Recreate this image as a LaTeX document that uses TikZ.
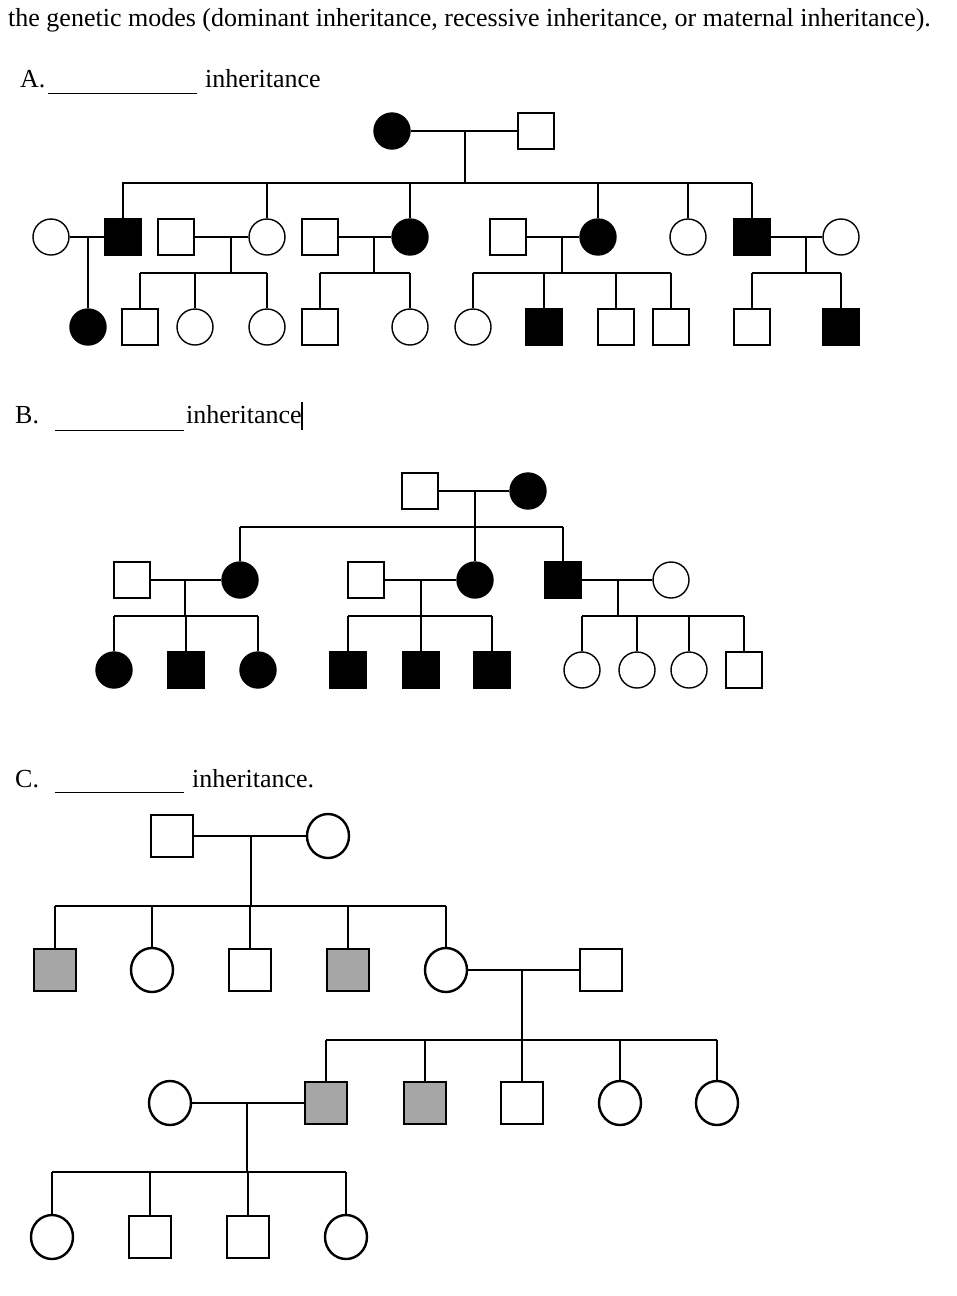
\documentclass[tikz,border=0pt]{standalone}
\usepackage{fontspec}
\setmainfont{Liberation Serif}
\usetikzlibrary{shapes.geometric}
\begin{document}
\begin{tikzpicture}[x=1pt,y=-1pt,
  base/.style={draw,inner sep=0pt,minimum size=#1,line width=1.4pt},
  sq/.style={base=36pt,rectangle,fill=white},
  ci/.style={base=36pt,circle,fill=white},
  fsq/.style={base=36pt,rectangle,fill=black},
  fci/.style={base=36pt,circle,fill=black},
  csq/.style={base=42pt,rectangle,fill=white,line width=2.4pt},
  cci/.style={draw,inner sep=0pt,ellipse,minimum width=42pt,minimum height=44pt,fill=white,line width=2.4pt},
  ssq/.style={base=42pt,rectangle,fill=black!35,line width=2.4pt},
  ln/.style={line width=1.4pt},
  lnc/.style={line width=2.4pt},
  txt/.style={inner sep=0pt,anchor=base west,font=\fontsize{26}{30}\selectfont}]
\useasboundingbox (0,0) rectangle (956,1296);
\fill[white] (0,0) rectangle (956,1296);
% texts
\node[txt] (t0) at (8,26) {the genetic modes (dominant inheritance, recessive inheritance, or maternal inheritance).};
\node[txt] (tA) at (20,87) {A.};
\coordinate (uA1) at (48,93); \coordinate (uA2) at (197,93);
\draw[line width=1pt] (uA1) -- (uA2);
\node[txt] (tA2) at (205,87) {inheritance};
\node[txt] (tB) at (15,423) {B.};
\coordinate (uB1) at (55,430); \coordinate (uB2) at (184,430);
\draw[line width=1pt] (uB1) -- (uB2);
\node[txt] (tB2) at (186,423) {inheritance};
\coordinate (cur1) at (302,402); \coordinate (cur2) at (302,430);
\draw[line width=1.2pt] (cur1) -- (cur2);
\node[txt] (tC) at (15,787) {C.};
\coordinate (uC1) at (55,792); \coordinate (uC2) at (184,792);
\draw[line width=1pt] (uC1) -- (uC2);
\node[txt] (tC2) at (192,787) {inheritance.};

% ===== A =====
\node[fci] (a0) at (392,131) {}; \node[sq] (a1) at (536,131) {};
\draw[ln] (a0.east) -- (a1.west);
\draw[ln] (465,131) -- (465,183);
\draw[ln] (122,183) -- (752,183);
\node[ci] (a2) at (51,237) {}; \node[fsq] (a3) at (123,237) {};
\node[sq] (a4) at (176,237) {}; \node[ci] (a5) at (267,237) {};
\node[sq] (a6) at (320,237) {}; \node[fci] (a7) at (410,237) {};
\node[sq] (a8) at (508,237) {}; \node[fci] (a9) at (598,237) {};
\node[ci] (a10) at (688,237) {};
\node[fsq] (a11) at (752,237) {}; \node[ci] (a12) at (841,237) {};
\foreach \n in {a3,a5,a7,a9,a10,a11} \draw[ln] (\n.north) -- (\n.north |- 0,183);
\draw[ln] (a2.east) -- (a3.west); \draw[ln] (a4.east) -- (a5.west);
\draw[ln] (a6.east) -- (a7.west); \draw[ln] (a8.east) -- (a9.west);
\draw[ln] (a11.east) -- (a12.west);
\node[fci] (b1) at (88,327) {};
\draw[ln] (88,237) -- (b1.north);
\node[sq] (b2) at (140,327) {}; \node[ci] (b3) at (195,327) {}; \node[ci] (b4) at (267,327) {};
\draw[ln] (231,237) -- (231,273); \draw[ln] (140,273) -- (267,273);
\node[sq] (b5) at (320,327) {}; \node[ci] (b6) at (410,327) {};
\draw[ln] (374,237) -- (374,273); \draw[ln] (320,273) -- (410,273);
\node[ci] (b7) at (473,327) {}; \node[fsq] (b8) at (544,327) {};
\node[sq] (b9) at (616,327) {}; \node[sq] (b10) at (671,327) {};
\draw[ln] (562,237) -- (562,273); \draw[ln] (473,273) -- (671,273);
\node[sq] (b11) at (752,327) {}; \node[fsq] (b12) at (841,327) {};
\draw[ln] (806,237) -- (806,273); \draw[ln] (752,273) -- (841,273);
\foreach \n in {b2,b3,b4,b5,b6,b7,b8,b9,b10,b11,b12} \draw[ln] (\n.north) -- (\n.north |- 0,273);

% ===== B =====
\node[sq] (c0) at (420,491) {}; \node[fci] (c1) at (528,491) {};
\draw[ln] (c0.east) -- (c1.west);
\draw[ln] (475,491) -- (475,527); \draw[ln] (240,527) -- (563,527);
\node[sq] (c2) at (132,580) {}; \node[fci] (c3) at (240,580) {};
\node[sq] (c4) at (366,580) {}; \node[fci] (c5) at (475,580) {};
\node[fsq] (c6) at (563,580) {}; \node[ci] (c7) at (671,580) {};
\foreach \n in {c3,c5,c6} \draw[ln] (\n.north) -- (\n.north |- 0,527);
\draw[ln] (c2.east) -- (c3.west); \draw[ln] (c4.east) -- (c5.west); \draw[ln] (c6.east) -- (c7.west);
\draw[ln] (185,580) -- (185,616); \draw[ln] (114,616) -- (258,616);
\draw[ln] (421,580) -- (421,616); \draw[ln] (348,616) -- (492,616);
\draw[ln] (618,580) -- (618,616); \draw[ln] (582,616) -- (744,616);
\node[fci] (d1) at (114,670) {}; \node[fsq] (d2) at (186,670) {}; \node[fci] (d3) at (258,670) {};
\node[fsq] (d4) at (348,670) {}; \node[fsq] (d5) at (421,670) {}; \node[fsq] (d6) at (492,670) {};
\node[ci] (d7) at (582,670) {}; \node[ci] (d8) at (637,670) {}; \node[ci] (d9) at (689,670) {};
\node[sq] (d10) at (744,670) {};
\foreach \n in {d1,d2,d3,d4,d5,d6,d7,d8,d9,d10} \draw[ln] (\n.north) -- (\n.north |- 0,616);

% ===== C =====
\node[csq] (e0) at (172,836) {}; \node[cci] (e1) at (328,836) {};
\draw[lnc] (e0.east) -- (e1.west);
\draw[lnc] (251,836) -- (251,906); \draw[lnc] (55,906) -- (446,906);
\node[ssq] (f1) at (55,970) {}; \node[cci] (f2) at (152,970) {}; \node[csq] (f3) at (250,970) {};
\node[ssq] (f4) at (348,970) {}; \node[cci] (f5) at (446,970) {}; \node[csq] (f6) at (601,970) {};
\foreach \n in {f1,f2,f3,f4,f5} \draw[lnc] (\n.north) -- (\n.north |- 0,906);
\draw[lnc] (f5.east) -- (f6.west);
\draw[lnc] (522,970) -- (522,1040); \draw[lnc] (326,1040) -- (717,1040);
\node[cci] (g0) at (170,1103) {}; \node[ssq] (g1) at (326,1103) {}; \node[ssq] (g2) at (425,1103) {};
\node[csq] (g3) at (522,1103) {}; \node[cci] (g4) at (620,1103) {}; \node[cci] (g5) at (717,1103) {};
\foreach \n in {g1,g2,g3,g4,g5} \draw[lnc] (\n.north) -- (\n.north |- 0,1040);
\draw[lnc] (g0.east) -- (g1.west);
\draw[lnc] (247,1103) -- (247,1172); \draw[lnc] (52,1172) -- (346,1172);
\node[cci] (h1) at (52,1237) {}; \node[csq] (h2) at (150,1237) {};
\node[csq] (h3) at (248,1237) {}; \node[cci] (h4) at (346,1237) {};
\foreach \n in {h1,h2,h3,h4} \draw[lnc] (\n.north) -- (\n.north |- 0,1172);
\end{tikzpicture}
\end{document}
